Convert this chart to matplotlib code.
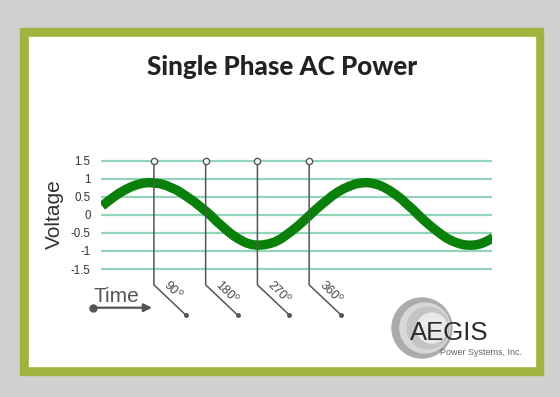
import matplotlib
matplotlib.use('Agg')
import matplotlib.pyplot as plt
from matplotlib.patches import Rectangle, Circle

plt.rcParams['font.family'] = 'Liberation Sans'

# curve samples, one every 10 degrees
DEGREES = list(range(0, 690, 10))
VOLTAGE = [0.25, 0.38, 0.50, 0.61, 0.70, 0.78, 0.84, 0.88, 0.90,
           0.89, 0.87, 0.83, 0.76, 0.69, 0.59, 0.48, 0.37, 0.24, 0.11,
           -0.03, -0.19, -0.33, -0.47, -0.59, -0.69, -0.77, -0.82, -0.84,
           -0.83, -0.80, -0.75, -0.67, -0.56, -0.44, -0.31, -0.17, -0.02,
           0.13, 0.27, 0.40, 0.53, 0.64, 0.73, 0.80, 0.86, 0.89,
           0.90, 0.88, 0.84, 0.77, 0.68, 0.57, 0.45, 0.30, 0.16,
           0.00, -0.15, -0.29, -0.42, -0.54, -0.65, -0.73, -0.79, -0.83,
           -0.84, -0.83, -0.79, -0.72, -0.63]

PHASE_ANGLES = [90, 180, 270, 360]
PHASE_LABELS = ['90', '180', '270', '360']

YTICKS = [1.5, 1, 0.5, 0, -0.5, -1, -1.5]
YTICK_LABELS = ['1.5', '1', '0.5', '0', '-0.5', '-1', '-1.5']

fig = plt.figure(figsize=(5.6, 3.97), dpi=100)

# --- frame / decorations, drawn in pixel units
bg = fig.add_axes([0, 0, 1, 1])
bg.set_xlim(0, 560)
bg.set_ylim(397, 0)
bg.axis('off')
bg.add_patch(Rectangle((0, 0), 560, 397, color='#d0d0d0'))
bg.add_patch(Rectangle((20, 28), 523, 347, color='#9fb33f'))
bg.add_patch(Rectangle((28.5, 37), 506.5, 329, color='white'))

bg.text(282, 75, 'Single Phase AC Power', ha='center', va='baseline',
        fontsize=18.7, fontweight='black', family='Lato', color='#222222')

bg.text(54, 214, 'Voltage', rotation=90, ha='center', va='center',
        fontsize=15, color='#333333')
bg.text(93, 302, 'Time', ha='left', va='baseline', fontsize=15, color='#555555')
bg.annotate('', xy=(152, 307.7), xytext=(93, 307.7),
            arrowprops=dict(arrowstyle='-|>', color='#555555', lw=1.6,
                            mutation_scale=12, shrinkA=0, shrinkB=0))
bg.plot(93, 307.7, 'o', ms=5, color='#555555')

# logo
bg.add_patch(Circle((422, 328), 30, color='#ababab'))
bg.add_patch(Circle((425, 328), 25, color='#d8d8d8'))
bg.add_patch(Circle((428, 328), 21, color='#c4c4c4'))
bg.add_patch(Circle((432, 328), 15, color='#eaeaea'))
bg.text(410, 340, 'AEGIS', ha='left', va='baseline', fontsize=18.5,
        color='#2b2b2b')
bg.text(522, 355, 'Power Systems, Inc.', ha='right', va='baseline',
        fontsize=6.5, color='#666666')

# --- the chart itself
ax = fig.add_axes([101 / 560, 1 - 319.4 / 397, 391 / 560, 162 / 397])
ax.patch.set_alpha(0)
for s in ax.spines.values():
    s.set_visible(False)
ax.set_xlim(-2, 678)
ax.set_ylim(-2.9, 1.6)

for v in YTICKS:
    ax.axhline(v, color='#93d5b8', lw=1.6, zorder=1)
ax.set_yticks(YTICKS, YTICK_LABELS)
ax.set_xticks([])
ax.tick_params(axis='y', length=0, pad=7.5, labelsize=8.3, labelcolor='#333333')

ax.plot(DEGREES, VOLTAGE, color='#0a800a', lw=6.8, solid_joinstyle='round',
        solid_capstyle='butt', zorder=3)

for a, lab in zip(PHASE_ANGLES, PHASE_LABELS):
    ax.plot([a, a, a + 55.6], [1.5, -1.94, -2.78], color='#555555', lw=1.1,
            zorder=4, clip_on=False)
    ax.plot(a, 1.5, 'o', ms=4.5, mfc='white', mec='#555555', mew=1, zorder=5)
    ax.plot(a + 55.6, -2.78, 'o', ms=2.5, color='#555555', zorder=5,
            clip_on=False)
    ax.annotate(lab + r'$^\mathregular{o}$', xy=(a, -1.94), xytext=(6.5, -0.8),
                textcoords='offset points', rotation=-45, rotation_mode='anchor',
                ha='left', va='baseline', fontsize=9, color='#444444')

fig.savefig('out.png', dpi=100)
